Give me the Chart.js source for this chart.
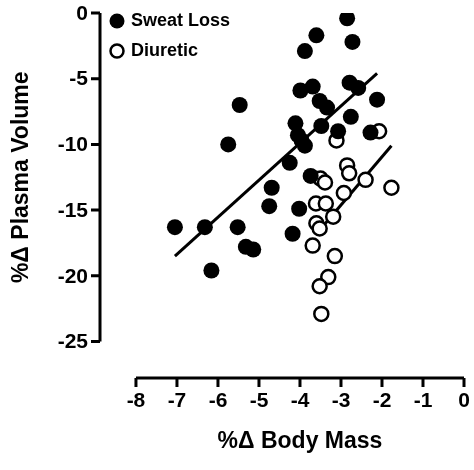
<!DOCTYPE html>
<html><head><meta charset="utf-8">
<script src="https://cdn.jsdelivr.net/npm/chart.js@4"></script>
<style>body{margin:0;background:#fff}#wrap{width:474px;height:470px}</style>
</head><body><div id="wrap"><canvas id="grafica"></canvas></div>
<script>
const sweatX = [-2.85,-3.60,-3.88,-2.72,-2.79,-2.58,-3.99,-3.69,-5.47,-3.52,-3.34,-2.12,-2.76,-4.11,-3.48,-3.07,-4.05,-3.96,-3.88,-2.28,-5.75,-4.25,-3.74,-4.69,-4.75,-4.02,-7.05,-6.32,-5.52,-5.32,-5.14,-4.18,-6.16];
const sweatY = [-0.4,-1.7,-2.9,-2.2,-5.3,-5.7,-5.9,-5.6,-7.0,-6.7,-7.2,-6.6,-7.9,-8.4,-8.6,-9.0,-9.3,-9.7,-10.1,-9.1,-10.0,-11.4,-12.4,-13.3,-14.7,-14.9,-16.3,-16.3,-16.3,-17.8,-18.0,-16.8,-19.6];
const diurX = [-2.07,-3.11,-2.85,-2.80,-2.40,-1.77,-3.50,-3.39,-2.93,-3.61,-3.37,-3.19,-3.60,-3.52,-3.69,-3.15,-3.31,-3.52,-3.48];
const diurY = [-9.0,-9.7,-11.6,-12.2,-12.7,-13.3,-12.6,-12.9,-13.7,-14.5,-14.5,-15.5,-16.0,-16.4,-17.7,-18.5,-20.1,-20.8,-22.9];
const sweatFit = [[-7.05,-18.5],[-2.12,-4.6]];
const diurFit = [[-3.57,-16.7],[-1.77,-10.1]];
const xTicks = [-8,-7,-6,-5,-4,-3,-2,-1,0];
const yTicks = [0,-5,-10,-15,-20,-25];

const toPts = (xs, ys) => xs.map((x, i) => ({ x: x, y: ys[i] }));
const fuente = "bold 21px 'Liberation Sans', Arial, sans-serif";

const ejes = {
    id: 'ejes',
    afterDraw(chart) {
        const ctx = chart.ctx, sx = chart.scales.x, sy = chart.scales.y;
        const y0 = sy.getPixelForValue(0), y25 = sy.getPixelForValue(-25);
        const xAxisY = chart.chartArea.bottom, yAxisX = chart.chartArea.left;
        const x8 = sx.getPixelForValue(-8), x0 = sx.getPixelForValue(0);
        ctx.save();
        ctx.strokeStyle = '#000'; ctx.fillStyle = '#000'; ctx.lineWidth = 3;
        ctx.beginPath();
        ctx.moveTo(yAxisX, y0); ctx.lineTo(yAxisX, y25);
        ctx.moveTo(x8, xAxisY); ctx.lineTo(x0, xAxisY);
        yTicks.forEach(v => { const p = sy.getPixelForValue(v); ctx.moveTo(yAxisX, p); ctx.lineTo(yAxisX - 9, p); });
        xTicks.forEach(v => { const p = sx.getPixelForValue(v); ctx.moveTo(p, xAxisY); ctx.lineTo(p, xAxisY + 9); });
        ctx.stroke();
        ctx.font = fuente;
        ctx.textAlign = 'right'; ctx.textBaseline = 'middle';
        yTicks.forEach(v => ctx.fillText(String(v), yAxisX - 12, sy.getPixelForValue(v) + 1));
        ctx.textAlign = 'center'; ctx.textBaseline = 'top';
        xTicks.forEach(v => ctx.fillText(String(v), sx.getPixelForValue(v), xAxisY + 13));
        ctx.font = "bold 23px 'Liberation Sans', Arial, sans-serif";
        ctx.fillText('%\u0394 Body Mass', (x8 + x0) / 2, xAxisY + 52);
        ctx.translate(22, (y0 + y25) / 2);
        ctx.rotate(-Math.PI / 2);
        ctx.textBaseline = 'middle';
        ctx.fillText('%\u0394 Plasma Volume', 0, 0);
        ctx.restore();
        // leyenda
        ctx.save();
        ctx.font = "bold 18px 'Liberation Sans', Arial, sans-serif";
        ctx.textBaseline = 'middle'; ctx.textAlign = 'left';
        ctx.beginPath(); ctx.arc(117, 21, 7.5, 0, 2 * Math.PI); ctx.fillStyle = '#000'; ctx.fill();
        ctx.fillText('Sweat Loss', 131, 21);
        ctx.beginPath(); ctx.arc(117, 51, 6.5, 0, 2 * Math.PI); ctx.lineWidth = 2.5; ctx.strokeStyle = '#000'; ctx.stroke();
        ctx.fillText('Diuretic', 131, 51);
        ctx.restore();
    }
};

new Chart(document.getElementById('grafica'), {
    type: 'scatter',
    data: {
        datasets: [
            { data: toPts(sweatX, sweatY), pointRadius: 8, backgroundColor: '#000', borderColor: '#000', borderWidth: 0 },
            { data: toPts(diurX, diurY), pointRadius: 7, backgroundColor: '#fff', borderColor: '#000', borderWidth: 2.5 },
            { type: 'line', data: sweatFit.map(p => ({ x: p[0], y: p[1] })), borderColor: '#000', borderWidth: 3, pointRadius: 0 },
            { type: 'line', data: diurFit.map(p => ({ x: p[0], y: p[1] })), borderColor: '#000', borderWidth: 3, pointRadius: 0 }
        ]
    },
    options: {
        responsive: true, maintainAspectRatio: false, animation: false,
        layout: { padding: { left: 100, top: 13, right: 10, bottom: 92 } },
        plugins: { legend: { display: false }, tooltip: { enabled: false } },
        scales: {
            x: { type: 'linear', display: false, min: -8.877, max: 0 },
            y: { type: 'linear', display: false, min: -27.78, max: 0 }
        }
    },
    plugins: [ejes]
});
</script></body></html>
